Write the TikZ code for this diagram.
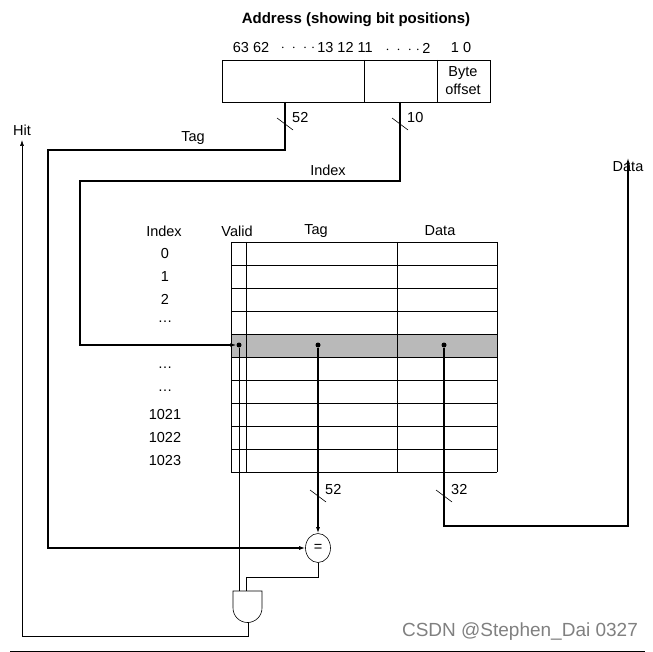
\documentclass[tikz,border=0pt]{standalone}
\usepackage{fontspec}
\setmainfont{Liberation Sans}
\usetikzlibrary{arrows.meta,calc,shapes.geometric}
\begin{document}
\begin{tikzpicture}[x=1pt,y=-1pt,
    lbl/.style={font=\fontsize{14.5}{17}\selectfont, inner sep=1pt},
    wire/.style={line width=1.1pt},
    thin wire/.style={line width=0.6pt},
    arr/.style={-{Latex[length=6pt,width=4pt]}},
    dot/.style={circle, fill, inner sep=0pt, minimum size=5pt}]
    \useasboundingbox (0,0) rectangle (653,652);
    % address
    \node[lbl, font=\bfseries\fontsize{15}{17}\selectfont] (title) at (356,20) {Address (showing bit positions)};
    \node[lbl] (b63) at (251,48) {63 62};
    \node[lbl] (bd1) at (298,48) {$\cdot\;\cdot\;\cdot\;\cdot$};
    \node[lbl] (b13) at (345,48) {13 12 11};
    \node[lbl] (bd2) at (408,48) {$\cdot\;\cdot\;\cdot\;\cdot\,$2};
    \node[lbl] (b10) at (461,48) {1 0};
    \draw[thin wire] (222,60) rectangle (490,102);
    \draw[thin wire] (364,60) -- (364,102) (437,60) -- (437,102);
    \node[lbl, align=center, font=\fontsize{14.5}{18}\selectfont] (off) at (463,81) {Byte\\offset};
    % table
    \fill[gray!55] (231,334) rectangle (497,357);
    \foreach \y in {242,265,288,311,334,357,380,403,426,449,472}
        \draw[thin wire] (231,\y) -- (497,\y);
    \foreach \x in {231,246,397,497}
        \draw[thin wire] (\x,242) -- (\x,472);
    \node[lbl] (hidx) at (164,231) {Index};
    \node[lbl] (hval) at (237,231) {Valid};
    \node[lbl] (htag) at (316,231) {Tag};
    \node[lbl] (hdat) at (440,231) {Data};
    \foreach \t/\y in {0/254,1/277,2/299,\dots/322,\dots/368,\dots/391,1021/415,1022/438,1023/461}
        \node[lbl] at (165,\y) {\t};
    \node[dot] (dv) at (239,345) {};
    \node[dot] (dt) at (318,345) {};
    \node[dot] (dd) at (444,345) {};
    % comparator and gate
    \node[draw, thin wire, ellipse, minimum width=25pt, minimum height=29pt, inner sep=0pt, lbl] (eq) at (318,548) {=};
    \draw[thin wire] (233,591) -- (262,591) -- (262,608) arc[start angle=0, end angle=180, radius=14.5] -- cycle;
    \coordinate (gout) at (248,622);
    % wires
    \coordinate (tagsrc) at (285,102);
    \coordinate (idxsrc) at (400,102);
    \draw[wire, arr] (tagsrc) |- (48,150) |- (eq.west);
    \draw[wire, arr] (idxsrc) |- (80,181) |- (dv);
    \draw[wire, arr] (dt) -- (eq.north);
    \draw[wire, arr] (dd) |- (628,526) -- (628,158);
    \draw[thin wire] (dv) -- (239,591);
    \draw[thin wire] (eq.south) |- (246,577) -- (246,591);
    \draw[thin wire, arr] (gout) |- (22,636) -- (22,140);
    % slashes
    \foreach \x/\y/\n in {285/124/52, 400/124/10, 318/496/52, 444/496/32}{
        \draw[thin wire] (\x-8,\y-6) -- (\x+8,\y+6);
        \node[lbl, anchor=west] at (\x+6,\y-6) {\n};}
    \node[lbl] (ltag) at (193,138) {Tag};
    \node[lbl] (lidx) at (328,170) {Index};
    \node[lbl] (lhit) at (22,130) {Hit};
    \node[lbl] (ldat) at (628,167) {Data};
    \node[font=\fontsize{19}{21}\selectfont, text=gray] (wm) at (520,632) {CSDN @Stephen\_Dai 0327};
    \draw[thin wire] (10,651) -- (645,651);
\end{tikzpicture}
\end{document}
